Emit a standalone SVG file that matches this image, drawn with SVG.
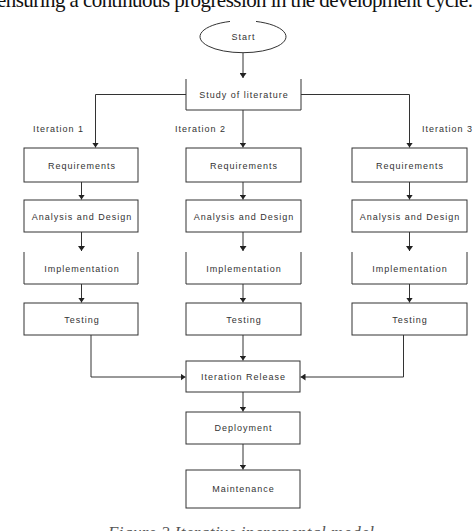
<svg xmlns="http://www.w3.org/2000/svg" width="474" height="531" viewBox="0 0 474 531">
<defs>
<style>
.box{fill:#fff;stroke:#333;stroke-width:1}
.open{fill:none;stroke:#333;stroke-width:1}
.lbl{font-family:"Liberation Sans",Arial,sans-serif;font-size:9px;letter-spacing:1px;fill:#333;text-anchor:middle}
.it{font-family:"Liberation Sans",Arial,sans-serif;font-size:9px;letter-spacing:1px;fill:#333}
.ln{fill:none;stroke:#333;stroke-width:1}
.arr{marker-end:url(#ah)}
</style>
<marker id="ah" markerUnits="userSpaceOnUse" markerWidth="7" markerHeight="7" refX="5" refY="3.5" orient="auto">
<path d="M0,0 L5,3.5 L0,7 z" fill="#222"/>
</marker>
</defs>
<rect width="474" height="531" fill="#fff"/>
<text x="-3" y="7" font-family="'Liberation Serif','Times New Roman',serif" font-size="21" fill="#111" textLength="476" lengthAdjust="spacing">ensuring a continuous progression in the development cycle.</text>

<g id="connectors">
<path class="ln arr" d="M243,53 V78"/>
<path class="ln" d="M186,94.5 H95.5"/>
<path class="ln arr" d="M95.5,94.5 V147.5"/>
<path class="ln" d="M301,94.5 H409.5"/>
<path class="ln arr" d="M409.5,94.5 V147.5"/>
<path class="ln arr" d="M243,110 V147.5"/>
<path class="ln arr" d="M81.5,182 V199.5"/>
<path class="ln arr" d="M81.5,232 V251"/>
<path class="ln arr" d="M81.5,284 V302.5"/>
<path class="ln arr" d="M243,182 V199.5"/>
<path class="ln arr" d="M243,232 V251"/>
<path class="ln arr" d="M243,284 V302.5"/>
<path class="ln arr" d="M409.5,182 V199.5"/>
<path class="ln arr" d="M409.5,232 V251"/>
<path class="ln arr" d="M409.5,284 V302.5"/>
<path class="ln arr" d="M91,335 V377 H185.5"/>
<path class="ln arr" d="M403.5,335 V377 H300.5"/>
<path class="ln arr" d="M243,335 V360.5"/>
<path class="ln arr" d="M243,392 V411.5"/>
<path class="ln arr" d="M243,444 V469.5"/>
</g>

<g id="start">
<path class="open" d="M256,21.45 A43,16 0 1 1 230,21.45"/>
<text class="lbl" x="243.5" y="40">Start</text>
</g>
<g id="study">
<path class="box" d="M186,79 V110 H301 V79"/>
<text class="lbl" x="244" y="98">Study of literature</text>
</g>

<g id="labels">
<text class="it" x="33" y="132">Iteration 1</text>
<text class="it" x="175" y="132">Iteration 2</text>
<text class="it" x="422" y="132">Iteration 3</text>
</g>

<g id="req1"><rect class="box" x="24" y="148" width="114" height="34"/><text class="lbl" x="82" y="168.5">Requirements</text></g>
<g id="ad1"><rect class="box" x="24" y="200" width="114" height="32"/><text class="lbl" x="82" y="219.5">Analysis and Design</text></g>
<g id="impl1"><path class="box" d="M24,252 V284 H138 V252"/><text class="lbl" x="82" y="271.5">Implementation</text></g>
<g id="test1"><rect class="box" x="24" y="303" width="114" height="32"/><text class="lbl" x="82" y="322.5">Testing</text></g>

<g id="req2"><rect class="box" x="186" y="148" width="115" height="34"/><text class="lbl" x="244" y="168.5">Requirements</text></g>
<g id="ad2"><rect class="box" x="186" y="200" width="115" height="32"/><text class="lbl" x="244" y="219.5">Analysis and Design</text></g>
<g id="impl2"><path class="box" d="M186,252 V284 H301 V252"/><text class="lbl" x="244" y="271.5">Implementation</text></g>
<g id="test2"><rect class="box" x="186" y="303" width="115" height="32"/><text class="lbl" x="244" y="322.5">Testing</text></g>

<g id="req3"><rect class="box" x="352" y="148" width="115" height="34"/><text class="lbl" x="410" y="168.5">Requirements</text></g>
<g id="ad3"><rect class="box" x="352" y="200" width="115" height="32"/><text class="lbl" x="410" y="219.5">Analysis and Design</text></g>
<g id="impl3"><path class="box" d="M352,252 V284 H467 V252"/><text class="lbl" x="410" y="271.5">Implementation</text></g>
<g id="test3"><rect class="box" x="352" y="303" width="115" height="32"/><text class="lbl" x="410" y="322.5">Testing</text></g>

<g id="release"><rect class="box" x="186" y="361" width="114" height="31"/><text class="lbl" x="243.5" y="379.5">Iteration Release</text></g>
<g id="deploy"><rect class="box" x="186" y="412" width="114" height="32"/><text class="lbl" x="243.5" y="431">Deployment</text></g>
<g id="maint"><rect class="box" x="186" y="470" width="114" height="38"/><text class="lbl" x="243.5" y="492">Maintenance</text></g>

<text x="108" y="537.5" font-family="'Liberation Serif','Times New Roman',serif" font-style="italic" font-size="17" fill="#555" textLength="266" lengthAdjust="spacing">Figure 2 Iterative incremental model</text>
</svg>
